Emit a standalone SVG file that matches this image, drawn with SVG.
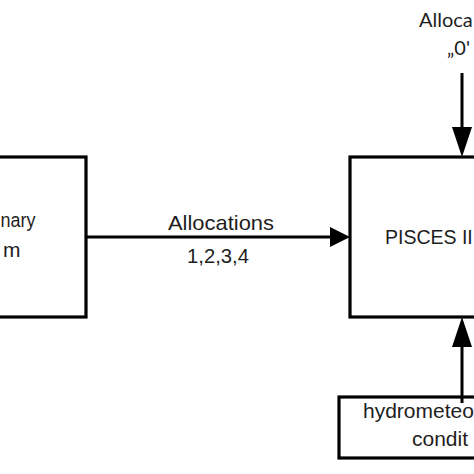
<svg xmlns="http://www.w3.org/2000/svg" width="474" height="474" viewBox="0 0 474 474">
<style>
.box{fill:#fff;stroke:#000;stroke-width:3.2}
.lbl{font-family:"Liberation Sans",Arial,sans-serif;font-size:21px;fill:#1e1e1e}
.cal{font-family:Lato,"Open Sans",sans-serif;font-size:20px;fill:#1e1e1e}
.ln{stroke:#000;stroke-width:3;fill:none}
.hd{fill:#000}
</style>
<rect width="474" height="474" fill="#fff"/>
<g id="node-preliminary">
<rect class="box" x="-100" y="157" width="186" height="160"/>
<text class="lbl" x="0.5" y="227" style="font-size:20.5px" textLength="35" lengthAdjust="spacingAndGlyphs">nary</text>
<text class="lbl" x="3" y="257">m</text>
</g>
<g id="node-pisces">
<rect class="box" x="350" y="157" width="200" height="160"/>
<text class="lbl" x="385" y="244" style="font-size:19.5px">PISCES II</text>
</g>
<g id="node-hydro">
<rect class="box" x="339" y="397" width="200" height="61"/>
<text class="lbl" x="363" y="418">hydrometeo</text>
<text class="lbl" x="412" y="446">condit</text>
</g>
<g id="node-alloc0">
<text class="cal" x="419" y="27">Alloca</text>
<text class="cal" x="447" y="55">„0'</text>
</g>
<g id="connectors">
<line class="ln" x1="86" y1="237" x2="334" y2="237"/>
<polygon class="hd" points="330,227 350,237 330,247"/>
<text class="lbl" x="221" y="230" text-anchor="middle" textLength="106" lengthAdjust="spacingAndGlyphs">Allocations</text>
<text class="lbl" x="218" y="263" text-anchor="middle" textLength="62" lengthAdjust="spacingAndGlyphs">1,2,3,4</text>
<line class="ln" x1="462" y1="73" x2="462" y2="130"/>
<polygon class="hd" points="452,127 472,127 462,157"/>
<line class="ln" x1="462" y1="403" x2="462" y2="344"/>
<polygon class="hd" points="452,347 472,347 462,317"/>
</g>
</svg>
